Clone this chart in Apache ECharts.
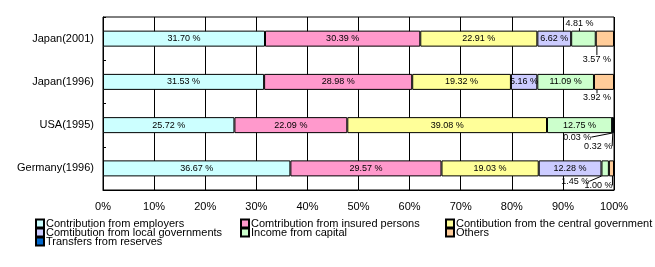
<!DOCTYPE html>
<html>
<head>
<meta charset="utf-8">
<script src="https://cdn.jsdelivr.net/npm/echarts@6/dist/echarts.min.js"></script>
<style>
  html, body { margin: 0; padding: 0; background: #fff; }
  #chart-container { width: 655px; height: 267px; }
</style>
</head>
<body>
<div id="chart-container"></div>
<script>
var dom = document.getElementById("chart-container");
var myChart = echarts.init(dom, null, { renderer: "canvas" });

// data (percent)
const categories = ["Japan(2001)", "Japan(1996)", "USA(1995)", "Germany(1996)"];
const employers = [31.70, 31.53, 25.72, 36.67];
const insured = [30.39, 28.98, 22.09, 29.57];
const centralGov = [22.91, 19.32, 39.08, 19.03];
const localGov = [6.62, 5.16, 0, 12.28];
const capital = [4.81, 11.09, 12.75, 1.45];
const others = [3.57, 3.92, 0.03, 1.00];
const reserves = [0, 0, 0.32, 0];

const seriesNames = [
  "Contribution from employers",
  "Comtribution from insured persons",
  "Contibution from the central government",
  "Comtibution from local governments",
  "Income from capital",
  "Others",
  "Transfers from reserves",
];
const seriesValues = [employers, insured, centralGov, localGov, capital, others, reserves];
const colors = ["#CCFFFF", "#FF99CC", "#FFFF99", "#CCCCFF", "#CCFFCC", "#FFCC99", "#0066CC"];

// labels of thin segments are moved out of the bar (seriesIndex-dataIndex: [dx, dy])
const moved = {
  "4-0": [-4, -15],
  "5-0": [-8, 21],
  "5-1": [-7, 16],
  "5-2": [-35, 12],
  "6-2": [-15, 21],
  "4-3": [-30, 13],
  "5-3": [-13, 17],
};

var font = "'Liberation Sans', Arial, sans-serif";

var series = seriesValues.map(function (vals, si) {
  return {
    name: seriesNames[si],
    type: "bar",
    stack: "total",
    barWidth: 16,
    itemStyle: { color: colors[si], borderColor: "#000", borderWidth: 1 },
    label: {
      show: true,
      position: "inside",
      color: "#000",
      fontFamily: font,
      fontSize: 9,
      formatter: function (p) {
        return p.value ? p.value.toFixed(2) + " %" : "";
      },
    },
    labelLayout: function (p) {
      var o = moved[p.seriesIndex + "-" + p.dataIndex];
      return o ? { dx: o[0], dy: o[1] } : {};
    },
    data: vals.map(function (v, di) {
      if (!v) return null;
      if (moved[si + "-" + di]) {
        return {
          value: v,
          labelLine: { show: true, lineStyle: { color: "#000", width: 1 } },
        };
      }
      return v;
    }),
  };
});

function legendCol(left, names) {
  return {
    orient: "vertical",
    left: left,
    top: 213,
    itemWidth: 8,
    itemHeight: 8,
    itemGap: -2,
    icon: "rect",
    textStyle: { color: "#000", fontFamily: font, fontSize: 11, lineHeight: 10, padding: [0, 0, 0, -3] },
    data: names,
  };
}

var option = {
  animation: false,
  grid: {
    left: 103,
    right: 41,
    top: 17,
    bottom: 77,
    show: true,
    borderColor: "#000",
    borderWidth: 1,
  },
  legend: [
    legendCol(30, [seriesNames[0], seriesNames[3], seriesNames[6]]),
    legendCol(235, [seriesNames[1], seriesNames[4]]),
    legendCol(440, [seriesNames[2], seriesNames[5]]),
  ],
  xAxis: {
    type: "value",
    min: 0,
    max: 100,
    interval: 10,
    axisLine: { show: true, lineStyle: { color: "#000" } },
    axisTick: { show: false },
    axisLabel: { color: "#000", fontFamily: font, fontSize: 11, margin: 11, formatter: "{value}%" },
    splitLine: { show: true, lineStyle: { color: "#000", width: 1 } },
  },
  yAxis: {
    type: "category",
    inverse: true,
    data: categories,
    axisLine: { show: true, lineStyle: { color: "#000" } },
    axisTick: { show: true, inside: true, length: 3, lineStyle: { color: "#000" } },
    axisLabel: { color: "#000", fontFamily: font, fontSize: 11, margin: 9 },
  },
  series: series,
};

myChart.setOption(option);
window.addEventListener("resize", myChart.resize);
</script>
</body>
</html>
